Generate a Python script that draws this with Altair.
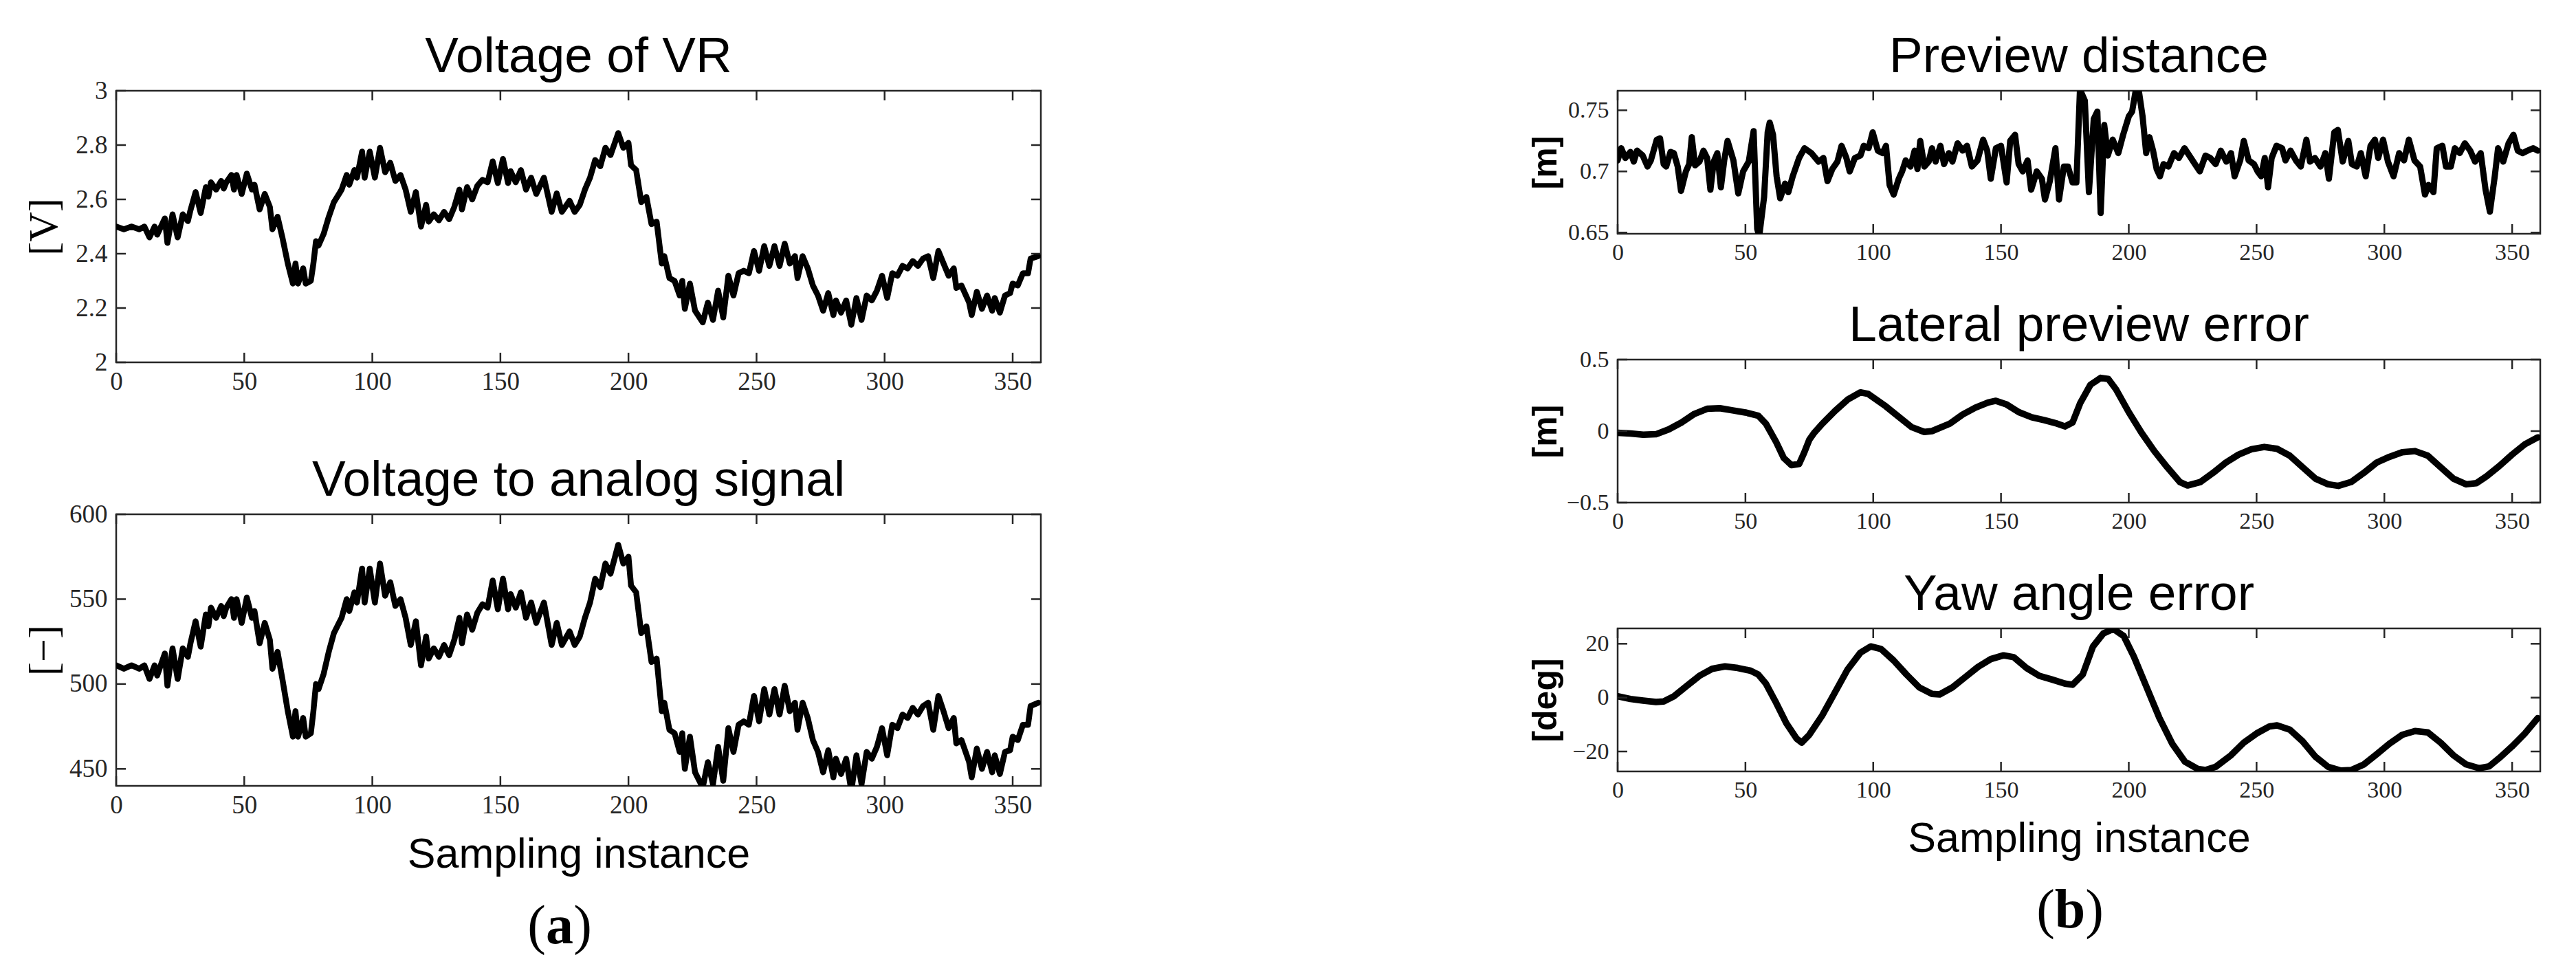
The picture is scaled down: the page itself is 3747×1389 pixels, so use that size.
import altair as alt
import pandas as pd

# ---------------- data ----------------
X_TICKS = [0, 50, 100, 150, 200, 250, 300, 350]

# (a) top: Voltage of VR [V]
VR_X = [0, 3, 6, 9, 11, 13, 15, 16, 19, 20, 22, 24, 26, 28, 29, 31, 33, 35, 36, 37,
        39, 41, 42, 43, 45, 46, 47, 49, 51, 53, 54, 56, 58, 60, 61, 63, 65, 67, 69, 70,
        71, 73, 74, 76, 77, 78, 79, 81, 83, 85, 87, 88, 90, 91, 93, 94, 96, 97, 99, 101,
        103, 105, 107, 109, 111, 113, 115, 117, 119, 121, 122, 124, 126, 128, 130, 132, 134, 135, 137, 139,
        141, 143, 145, 147, 149, 151, 153, 154, 156, 158, 160, 162, 164, 167, 170, 172, 174, 177, 179, 181,
        183, 185, 187, 189, 191, 193, 196, 198, 200, 201, 203, 205, 207, 209, 211, 213, 214, 216, 218, 220,
        221, 222, 224, 226, 229, 231, 233, 235, 237, 239, 241, 243, 245, 247, 249, 251, 253, 255, 257, 259,
        261, 263, 265, 266, 268, 270, 272, 274, 276, 278, 280, 281, 283, 285, 287, 289, 291, 293, 295, 297,
        299, 301, 303, 305, 307, 309, 311, 313, 315, 317, 319, 321, 323, 325, 327, 328, 330, 333, 334, 336,
        338, 340, 342, 343, 345, 347, 349, 350, 352, 354, 356, 357, 360]
VR_Y = [2.50, 2.49, 2.50, 2.49, 2.50, 2.46, 2.50, 2.47, 2.53, 2.44, 2.545, 2.46, 2.545, 2.52, 2.56, 2.627, 2.55, 2.645, 2.61, 2.663,
        2.636, 2.668, 2.64, 2.663, 2.69, 2.636, 2.69, 2.62, 2.695, 2.636, 2.654, 2.563, 2.62, 2.572, 2.49, 2.536, 2.455, 2.364, 2.29, 2.364,
        2.29, 2.346, 2.29, 2.30, 2.364, 2.446, 2.43, 2.473, 2.536, 2.59, 2.62, 2.636, 2.69, 2.654, 2.708, 2.68, 2.776, 2.68, 2.776, 2.68,
        2.79, 2.70, 2.735, 2.668, 2.69, 2.636, 2.554, 2.627, 2.50, 2.58, 2.518, 2.545, 2.523, 2.554, 2.527, 2.572, 2.636, 2.563, 2.645, 2.60,
        2.65, 2.672, 2.663, 2.74, 2.66, 2.749, 2.66, 2.704, 2.663, 2.708, 2.636, 2.68, 2.62, 2.68, 2.554, 2.622, 2.554, 2.595, 2.554, 2.58,
        2.636, 2.68, 2.745, 2.722, 2.79, 2.763, 2.844, 2.79, 2.808, 2.726, 2.708, 2.59, 2.609, 2.509, 2.518, 2.364, 2.391, 2.31, 2.30, 2.246,
        2.30, 2.197, 2.29, 2.19, 2.147, 2.22, 2.156, 2.264, 2.165, 2.319, 2.246, 2.328, 2.337, 2.328, 2.41, 2.337, 2.428, 2.355, 2.428, 2.355,
        2.437, 2.364, 2.391, 2.31, 2.391, 2.346, 2.283, 2.246, 2.19, 2.255, 2.174, 2.228, 2.183, 2.228, 2.138, 2.237, 2.156, 2.246, 2.228, 2.264,
        2.319, 2.237, 2.328, 2.319, 2.355, 2.346, 2.373, 2.355, 2.382, 2.391, 2.31, 2.41, 2.364, 2.319, 2.346, 2.274, 2.283, 2.22, 2.174, 2.26,
        2.197, 2.246, 2.19, 2.237, 2.183, 2.246, 2.255, 2.29, 2.283, 2.328, 2.328, 2.382, 2.391]

# (a) bottom: Voltage to analog signal [-]
ADC_X = VR_X
ADC_Y = [511, 509, 511, 509, 511, 503, 511, 505, 518, 499, 521, 503, 521, 516, 524, 537, 522, 541, 534, 545,
         539, 546, 540, 545, 550, 539, 550, 536, 551, 539, 543, 524, 536, 526, 509, 519, 502, 484, 469, 484,
         469, 480, 469, 471, 484, 500, 497, 506, 519, 530, 536, 539, 550, 543, 554, 548, 568, 548, 568, 548,
         571, 552, 560, 546, 550, 539, 523, 537, 511, 528, 515, 521, 516, 523, 517, 526, 539, 524, 541, 532,
         542, 547, 545, 561, 544, 562, 544, 553, 545, 554, 539, 548, 536, 548, 523, 536, 523, 531, 523, 528,
         539, 548, 562, 557, 571, 565, 582, 571, 575, 558, 554, 530, 534, 513, 515, 484, 489, 473, 471, 460,
         471, 450, 469, 448, 439, 454, 441, 463, 443, 474, 460, 476, 478, 476, 493, 478, 497, 482, 497, 482,
         499, 484, 489, 473, 489, 480, 467, 460, 448, 461, 445, 456, 447, 456, 437, 458, 441, 460, 456, 463,
         474, 458, 476, 474, 482, 480, 486, 482, 487, 489, 473, 493, 484, 474, 480, 465, 467, 454, 445, 462,
         450, 460, 448, 458, 447, 460, 461, 469, 467, 476, 476, 487, 489]

# (b) top: Preview distance [m]
PD_X = [0, 1.4, 3, 5, 6.3, 7.6, 9.8, 11.7, 13, 15.3, 16.6, 18, 19, 20.7, 22, 23.5, 24.8, 26.7, 28, 29,
        30.3, 32, 33.6, 35, 36.3, 37.6, 39, 40.4, 41.7, 43, 45.3, 47.2, 49.1, 51.3, 53.2, 54.6, 55.4, 57.3, 58.7, 59.5,
        60.8, 62.2, 63.6, 65.5, 66.8, 68.5, 71, 73.1, 75.8, 78.6, 80.5, 82.1, 84, 86, 87.6, 89.5, 90.8, 92.8, 95, 96.3,
        98.2, 99.8, 101.8, 103.7, 105, 106.4, 108, 110, 111.3, 112.7, 114.6, 116.2, 117.3, 118.4, 120, 121.7, 123, 124.4, 126.3, 127.7,
        129.6, 131, 133, 135, 136.7, 138.6, 140.8, 143, 144.6, 146, 148, 150, 152.2, 153.6, 155.5, 156.9, 158.5, 160.4, 161.8, 164,
        166, 167.2, 169.1, 171.3, 172.7, 174.6, 176.2, 178, 179.5, 180.9, 182.8, 184.4, 186.3, 187.7, 189, 190.4, 191.8, 193.7, 195.9, 197.8,
        200, 201.3, 202.7, 204, 205.4, 206.8, 208.1, 209.5, 210.9, 212.2, 213.6, 215.5, 217.7, 219.6, 221.8, 223.7, 225.9, 227.8, 230, 231.9,
        234, 236, 238.2, 240, 241.4, 243.6, 245, 246.9, 249, 250.4, 251.8, 253.2, 254.5, 255.9, 257.8, 260, 261.3, 263.3, 265.4, 267.3,
        269.5, 270.9, 272.8, 275, 276.9, 278.3, 280.4, 281.8, 283.7, 285.9, 287.3, 289.2, 290.8, 292.7, 294.6, 296.3, 297.6, 299.5, 301.4, 303.6,
        305.8, 307.7, 309.6, 311.8, 314, 315.9, 317.3, 319.2, 320.5, 322.7, 324.1, 326, 327.6, 329.5, 331.5, 333.6, 335.5, 337.7, 339.6, 341.3,
        343.2, 344.5, 346.5, 348.6, 350.5, 352.2, 354.1, 356, 358.2, 360]
PD_Y = [0.709, 0.719, 0.711, 0.716, 0.708, 0.717, 0.713, 0.704, 0.709, 0.726, 0.727, 0.706, 0.704, 0.716, 0.715, 0.704, 0.684, 0.700, 0.706, 0.728,
        0.705, 0.708, 0.717, 0.711, 0.685, 0.708, 0.715, 0.687, 0.709, 0.725, 0.709, 0.682, 0.700, 0.708, 0.733, 0.653, 0.647, 0.679, 0.732, 0.740,
        0.730, 0.696, 0.678, 0.690, 0.683, 0.696, 0.711, 0.719, 0.715, 0.708, 0.711, 0.692, 0.702, 0.708, 0.721, 0.711, 0.700, 0.711, 0.713, 0.721,
        0.719, 0.732, 0.717, 0.715, 0.721, 0.689, 0.681, 0.694, 0.700, 0.709, 0.704, 0.717, 0.702, 0.725, 0.704, 0.708, 0.719, 0.708, 0.721, 0.706,
        0.715, 0.708, 0.723, 0.717, 0.721, 0.704, 0.709, 0.726, 0.717, 0.694, 0.719, 0.721, 0.691, 0.725, 0.730, 0.706, 0.700, 0.709, 0.685, 0.700,
        0.694, 0.677, 0.692, 0.719, 0.677, 0.704, 0.704, 0.691, 0.691, 0.767, 0.758, 0.683, 0.743, 0.749, 0.666, 0.738, 0.713, 0.726, 0.715, 0.730,
        0.745, 0.749, 0.766, 0.765, 0.745, 0.715, 0.728, 0.717, 0.702, 0.696, 0.706, 0.704, 0.715, 0.711, 0.719, 0.713, 0.706, 0.700, 0.713, 0.711,
        0.706, 0.717, 0.708, 0.715, 0.696, 0.709, 0.725, 0.709, 0.706, 0.700, 0.696, 0.711, 0.687, 0.711, 0.721, 0.719, 0.709, 0.717, 0.709, 0.704,
        0.726, 0.708, 0.711, 0.704, 0.715, 0.694, 0.732, 0.734, 0.708, 0.725, 0.706, 0.704, 0.715, 0.696, 0.721, 0.726, 0.711, 0.726, 0.708, 0.696,
        0.715, 0.709, 0.726, 0.709, 0.704, 0.681, 0.689, 0.683, 0.719, 0.721, 0.704, 0.704, 0.719, 0.715, 0.723, 0.717, 0.708, 0.715, 0.685, 0.667,
        0.696, 0.719, 0.708, 0.723, 0.730, 0.717, 0.715, 0.717, 0.719, 0.717]

# (b) middle: Lateral preview error [m]
LAT_X = [0, 5, 10, 15, 20, 25, 30, 35, 40, 45, 50, 55, 58, 62, 65, 68, 71, 73, 75, 77,
         80, 85, 90, 95, 98, 105, 110, 115, 120, 123, 130, 135, 140, 145, 148, 152, 157, 162, 167, 172,
         175, 178, 181, 185, 189, 192, 195, 200, 205, 210, 215, 220, 223, 228, 233, 238, 243, 248, 253, 258,
         263, 268, 273, 278, 282, 287, 292, 297, 302, 307, 312, 317, 322, 327, 332, 336, 340, 345, 350, 355, 360]
LAT_Y = [-0.012, -0.017, -0.025, -0.022, 0.012, 0.06, 0.12, 0.156, 0.16, 0.145, 0.13, 0.108, 0.052, -0.076, -0.188, -0.238, -0.23, -0.15, -0.06, -0.01,
         0.05, 0.14, 0.22, 0.271, 0.26, 0.172, 0.10, 0.028, -0.006, 0.0, 0.052, 0.116, 0.164, 0.20, 0.212, 0.188, 0.132, 0.097, 0.076, 0.052,
         0.033, 0.06, 0.196, 0.324, 0.372, 0.364, 0.292, 0.132, -0.012, -0.14, -0.252, -0.356, -0.38, -0.356, -0.292, -0.22, -0.164, -0.127, -0.111, -0.124,
         -0.172, -0.252, -0.332, -0.372, -0.383, -0.356, -0.292, -0.22, -0.18, -0.148, -0.14, -0.172, -0.252, -0.332, -0.372, -0.364, -0.316, -0.244, -0.164, -0.092, -0.044]

# (b) bottom: Yaw angle error [deg]
YAW_X = [0, 5, 10, 15, 18, 22, 27, 32, 37, 42, 47, 52, 55, 58, 62, 66, 70, 72, 75, 80,
         85, 90, 95, 99, 103, 108, 113, 118, 123, 126, 131, 136, 141, 146, 151, 155, 160, 165, 170, 175,
         178, 182, 186, 190, 194, 198, 202, 207, 212, 217, 222, 227, 230, 234, 240, 245, 250, 255, 258, 263,
         268, 273, 278, 283, 287, 292, 297, 302, 307, 312, 317, 322, 327, 332, 337, 341, 345, 350, 355, 360]
YAW_Y = [0.5, -0.5, -1.1, -1.6, -1.4, 0.5, 4.3, 8.1, 10.7, 11.6, 11.0, 10.0, 8.6, 5.2, -1.9, -9.5, -15.2, -16.7, -13.8, -6.7,
         1.9, 10.5, 16.7, 19.0, 18.1, 13.8, 8.6, 3.8, 1.4, 1.2, 3.8, 7.6, 11.4, 14.3, 15.7, 15.0, 11.0, 8.1, 6.7, 5.2,
         4.8, 8.6, 19.0, 23.8, 25.5, 22.9, 15.2, 3.8, -7.6, -17.1, -23.8, -26.5, -26.9, -25.7, -21.4, -16.7, -13.3, -10.7, -10.3, -11.9,
         -16.2, -21.9, -25.7, -27.1, -26.9, -24.8, -21.0, -17.1, -13.8, -12.4, -12.9, -16.7, -21.4, -24.8, -26.2, -25.5, -22.4, -18.1, -13.3, -7.6]

VR_TICKS = [2, 2.2, 2.4, 2.6, 2.8, 3]
ADC_TICKS = [450, 500, 550, 600]
PD_TICKS = [0.65, 0.7, 0.75]
LAT_TICKS = [-0.5, 0, 0.5]
YAW_TICKS = [-20, 0, 20]

TITLES = ["Voltage of VR", "Voltage to analog signal", "Preview distance",
          "Lateral preview error", "Yaw angle error"]
Y_TITLES = ["[V]", "[\u2212]", "[m]", "[m]", "[deg]"]
X_TITLE = "Sampling instance"
PANEL_LETTERS = ["a", "b"]

# ---------------- styling ----------------
SANS = "Liberation Sans"
SERIF = "Liberation Serif"
FRAME = "#262626"
TICK_LEN = 14
LW, LH = 1345, 395      # left panels plot size
RW, RH = 1342, 208      # right panels plot size
NUM_FMT = ".3~f"


def panel(xs, ys, W, H, ydom, yticks, title, ytitle, ytitle_font, ytitle_size,
          ytitle_weight, label_size, xtitle="", xtitle_y=118, line_w=8.5,
          bound=None, letter=None, letter_y=0, letter_x=645):
    xscale = alt.Scale(domain=[0, 361], nice=False, zero=False)
    yscale = alt.Scale(domain=ydom, nice=False, zero=False)
    xaxis = alt.Axis(values=X_TICKS, format=NUM_FMT, ticks=False, tickSize=0, domain=False,
                     grid=False, labelFont=SERIF, labelFontSize=label_size, labelPadding=10,
                     labelColor=FRAME, labelFlush=False, labelOverlap=False,
                     title=xtitle, titleFont=SANS, titleFontSize=61, titleFontWeight="normal",
                     titleColor="black", titleX=W / 2, titleY=xtitle_y,
                     titleAlign="center", titleBaseline="alphabetic")
    yaxis = alt.Axis(values=yticks, format=NUM_FMT, ticks=False, tickSize=0, domain=False,
                     grid=False, labelFont=SERIF, labelFontSize=label_size, labelPadding=13,
                     labelColor=FRAME, labelOverlap=False,
                     title=ytitle, titleFont=ytitle_font, titleFontSize=ytitle_size,
                     titleFontWeight=ytitle_weight, titleColor="black",
                     titleX=-105, titleY=H / 2, titleAngle=270,
                     titleAlign="center", titleBaseline="middle")

    df = pd.DataFrame({"x": xs, "y": ys})
    line = alt.Chart(df).mark_line(color="black", strokeWidth=line_w, clip=True,
                                   strokeJoin="round", strokeCap="round").encode(
        x=alt.X("x:Q", scale=xscale, axis=xaxis),
        y=alt.Y("y:Q", scale=yscale, axis=yaxis),
    )

    xt = pd.DataFrame({"x": X_TICKS})
    yt = pd.DataFrame({"y": yticks})
    tk = dict(color=FRAME, strokeWidth=2.5)
    top_t = alt.Chart(xt).mark_rule(**tk).encode(
        x=alt.X("x:Q", scale=xscale, axis=xaxis), y=alt.value(0), y2=alt.value(TICK_LEN))
    bot_t = alt.Chart(xt).mark_rule(**tk).encode(
        x=alt.X("x:Q", scale=xscale, axis=xaxis), y=alt.value(H - TICK_LEN), y2=alt.value(H))
    left_t = alt.Chart(yt).mark_rule(**tk).encode(
        y=alt.Y("y:Q", scale=yscale, axis=yaxis), x=alt.value(0), x2=alt.value(TICK_LEN))
    right_t = alt.Chart(yt).mark_rule(**tk).encode(
        y=alt.Y("y:Q", scale=yscale, axis=yaxis), x=alt.value(W - TICK_LEN), x2=alt.value(W))

    ttl = alt.Chart(pd.DataFrame({"t": [title]})).mark_text(
        font=SANS, fontSize=73, color="black", align="center", baseline="alphabetic").encode(
        text="t:N", x=alt.value(W / 2), y=alt.value(-27))

    layers = [line, top_t, bot_t, left_t, right_t, ttl]

    if bound is not None:
        # invisible guide that fixes the outer extent of the column
        bx1, by, bx2 = bound
        layers.append(alt.Chart(pd.DataFrame({"t": [0]})).mark_rule(
            strokeOpacity=0, opacity=0).encode(
            x=alt.value(bx1), x2=alt.value(bx2), y=alt.value(by)))

    if letter is not None:
        cx = letter_x
        half = 22 if letter == "b" else 20
        lt = pd.DataFrame({"o": ["("], "l": [letter], "c": [")"]})
        base = dict(font=SERIF, fontSize=80, color="black", align="center", baseline="alphabetic")
        layers.append(alt.Chart(lt).mark_text(**base).encode(
            text="o:N", x=alt.value(cx - half - 13.5), y=alt.value(letter_y)))
        layers.append(alt.Chart(lt).mark_text(fontWeight="bold", **base).encode(
            text="l:N", x=alt.value(cx), y=alt.value(letter_y)))
        layers.append(alt.Chart(lt).mark_text(**base).encode(
            text="c:N", x=alt.value(cx + half + 13.5), y=alt.value(letter_y)))

    return alt.layer(*layers).properties(width=W, height=H)


lt = panel(VR_X, VR_Y, LW, LH, [2, 3], VR_TICKS, TITLES[0], Y_TITLES[0], SERIF, 60, "normal", 37,
           bound=(-159, -99, LW + 5))
lb = panel(ADC_X, ADC_Y, LW, LH, [440, 600], ADC_TICKS, TITLES[1], Y_TITLES[1], SERIF, 60, "normal", 37,
           xtitle=X_TITLE, xtitle_y=118, bound=(0, 0, LW + 5), letter=PANEL_LETTERS[0], letter_y=624)

rt = panel(PD_X, PD_Y, RW, RH, [0.649, 0.766], PD_TICKS, TITLES[2], Y_TITLES[2], SANS, 50, "bold", 34,
           line_w=9, bound=(-200, -122, 0))
rm = panel(LAT_X, LAT_Y, RW, RH, [-0.5, 0.5], LAT_TICKS, TITLES[3], Y_TITLES[3], SANS, 50, "bold", 34,
           line_w=9.5)
rb = panel(YAW_X, YAW_Y, RW, RH, [-27.4, 25.7], YAW_TICKS, TITLES[4], Y_TITLES[4], SANS, 50, "bold", 34,
           line_w=9.5, xtitle=X_TITLE, xtitle_y=116, letter=PANEL_LETTERS[1], letter_y=435,
           letter_x=658)

left = alt.vconcat(lt, lb, spacing=221, bounds="flush")
right = alt.vconcat(rt, rm, rb, spacing=183, bounds="flush")

chart = alt.hconcat(left, right, spacing=630).properties(
    padding=0, background="white"
).configure_view(
    stroke=FRAME, strokeWidth=2.5
).configure_axis(
    labelFont=SERIF
)

chart.save("out.html", embed_options={"renderer": "svg", "actions": False})
